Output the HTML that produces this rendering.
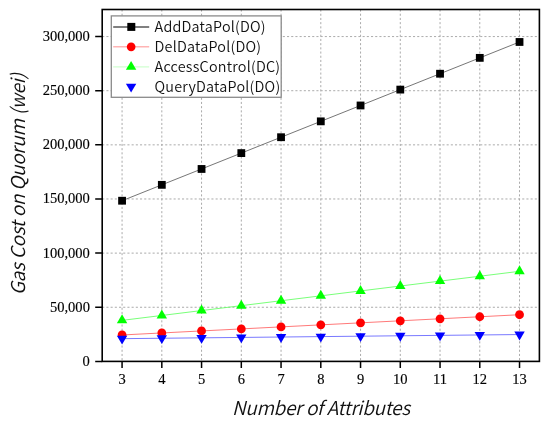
<!DOCTYPE html>
<html><head><meta charset="utf-8"><style>
html,body{margin:0;padding:0;background:#fff;width:550px;height:425px;overflow:hidden}
svg{display:block}
</style></head><body>
<svg width="550" height="425" viewBox="0 0 550 425">
<rect x="0" y="0" width="550" height="425" fill="#fff"/>
<path d="M122.07 9.50V361.40 M161.82 9.50V361.40 M201.56 9.50V361.40 M241.31 9.50V361.40 M281.05 9.50V361.40 M320.80 9.50V361.40 M360.55 9.50V361.40 M400.29 9.50V361.40 M440.04 9.50V361.40 M479.78 9.50V361.40 M519.53 9.50V361.40 M102.20 307.26H539.40 M102.20 253.12H539.40 M102.20 198.98H539.40 M102.20 144.85H539.40 M102.20 90.71H539.40 M102.20 36.57H539.40" stroke="#ababab" stroke-width="1" stroke-dasharray="2.1 2.1" fill="none"/>
<path d="M122.07 361.40V367.90 M161.82 361.40V367.90 M201.56 361.40V367.90 M241.31 361.40V367.90 M281.05 361.40V367.90 M320.80 361.40V367.90 M360.55 361.40V367.90 M400.29 361.40V367.90 M440.04 361.40V367.90 M479.78 361.40V367.90 M519.53 361.40V367.90 M102.20 361.40H95.20 M102.20 307.26H95.20 M102.20 253.12H95.20 M102.20 198.98H95.20 M102.20 144.85H95.20 M102.20 90.71H95.20 M102.20 36.57H95.20" stroke="#000" stroke-width="1.5" fill="none"/>
<path d="M122.07 200.72 L161.82 184.84 L201.56 168.97 L241.31 153.10 L281.05 137.22 L320.80 121.35 L360.55 105.48 L400.29 89.60 L440.04 73.73 L479.78 57.86 L519.53 41.98" stroke="#666666" stroke-width="0.9" fill="none"/>
<path d="M122.07 334.98 L161.82 332.96 L201.56 330.93 L241.31 328.91 L281.05 326.88 L320.80 324.86 L360.55 322.83 L400.29 320.81 L440.04 318.78 L479.78 316.76 L519.53 314.73" stroke="#ff6a6a" stroke-width="0.9" fill="none"/>
<path d="M122.07 320.36 L161.82 315.46 L201.56 310.55 L241.31 305.65 L281.05 300.74 L320.80 295.84 L360.55 290.93 L400.29 286.03 L440.04 281.12 L479.78 276.22 L519.53 271.31" stroke="#6aff6a" stroke-width="0.9" fill="none"/>
<path d="M122.07 338.66 L161.82 338.25 L201.56 337.84 L241.31 337.43 L281.05 337.02 L320.80 336.60 L360.55 336.19 L400.29 335.78 L440.04 335.37 L479.78 334.96 L519.53 334.55" stroke="#6a6aff" stroke-width="0.9" fill="none"/>
<rect x="118.17" y="196.82" width="7.8" height="7.8" fill="#000"/>
<rect x="157.92" y="180.94" width="7.8" height="7.8" fill="#000"/>
<rect x="197.66" y="165.07" width="7.8" height="7.8" fill="#000"/>
<rect x="237.41" y="149.20" width="7.8" height="7.8" fill="#000"/>
<rect x="277.15" y="133.32" width="7.8" height="7.8" fill="#000"/>
<rect x="316.90" y="117.45" width="7.8" height="7.8" fill="#000"/>
<rect x="356.65" y="101.58" width="7.8" height="7.8" fill="#000"/>
<rect x="396.39" y="85.70" width="7.8" height="7.8" fill="#000"/>
<rect x="436.14" y="69.83" width="7.8" height="7.8" fill="#000"/>
<rect x="475.88" y="53.96" width="7.8" height="7.8" fill="#000"/>
<rect x="515.63" y="38.08" width="7.8" height="7.8" fill="#000"/>
<path d="M122.07 314.36L127.27 323.36L116.87 323.36Z" fill="#00ff00"/>
<path d="M161.82 309.46L167.02 318.46L156.62 318.46Z" fill="#00ff00"/>
<path d="M201.56 304.55L206.76 313.55L196.36 313.55Z" fill="#00ff00"/>
<path d="M241.31 299.65L246.51 308.65L236.11 308.65Z" fill="#00ff00"/>
<path d="M281.05 294.74L286.25 303.74L275.85 303.74Z" fill="#00ff00"/>
<path d="M320.80 289.84L326.00 298.84L315.60 298.84Z" fill="#00ff00"/>
<path d="M360.55 284.93L365.75 293.93L355.35 293.93Z" fill="#00ff00"/>
<path d="M400.29 280.03L405.49 289.03L395.09 289.03Z" fill="#00ff00"/>
<path d="M440.04 275.12L445.24 284.12L434.84 284.12Z" fill="#00ff00"/>
<path d="M479.78 270.22L484.98 279.22L474.58 279.22Z" fill="#00ff00"/>
<path d="M519.53 265.31L524.73 274.31L514.33 274.31Z" fill="#00ff00"/>
<circle cx="122.07" cy="334.98" r="4.4" fill="#ff0000"/>
<circle cx="161.82" cy="332.96" r="4.4" fill="#ff0000"/>
<circle cx="201.56" cy="330.93" r="4.4" fill="#ff0000"/>
<circle cx="241.31" cy="328.91" r="4.4" fill="#ff0000"/>
<circle cx="281.05" cy="326.88" r="4.4" fill="#ff0000"/>
<circle cx="320.80" cy="324.86" r="4.4" fill="#ff0000"/>
<circle cx="360.55" cy="322.83" r="4.4" fill="#ff0000"/>
<circle cx="400.29" cy="320.81" r="4.4" fill="#ff0000"/>
<circle cx="440.04" cy="318.78" r="4.4" fill="#ff0000"/>
<circle cx="479.78" cy="316.76" r="4.4" fill="#ff0000"/>
<circle cx="519.53" cy="314.73" r="4.4" fill="#ff0000"/>
<path d="M116.87 335.73L127.27 335.73L122.07 344.53Z" fill="#0000ff"/>
<path d="M156.62 335.32L167.02 335.32L161.82 344.12Z" fill="#0000ff"/>
<path d="M196.36 334.91L206.76 334.91L201.56 343.71Z" fill="#0000ff"/>
<path d="M236.11 334.49L246.51 334.49L241.31 343.29Z" fill="#0000ff"/>
<path d="M275.85 334.08L286.25 334.08L281.05 342.88Z" fill="#0000ff"/>
<path d="M315.60 333.67L326.00 333.67L320.80 342.47Z" fill="#0000ff"/>
<path d="M355.35 333.26L365.75 333.26L360.55 342.06Z" fill="#0000ff"/>
<path d="M395.09 332.85L405.49 332.85L400.29 341.65Z" fill="#0000ff"/>
<path d="M434.84 332.44L445.24 332.44L440.04 341.24Z" fill="#0000ff"/>
<path d="M474.58 332.03L484.98 332.03L479.78 340.83Z" fill="#0000ff"/>
<path d="M514.33 331.61L524.73 331.61L519.53 340.41Z" fill="#0000ff"/>
<rect x="102.20" y="9.50" width="437.20" height="351.90" fill="none" stroke="#000" stroke-width="1.6"/>
<text transform="translate(122.07,384.2) scale(0.97,1)" text-anchor="middle" style="font-family:'Liberation Serif',serif;font-size:15px;fill:#000;stroke:#000;stroke-width:0.15px">3</text>
<text transform="translate(161.82,384.2) scale(0.97,1)" text-anchor="middle" style="font-family:'Liberation Serif',serif;font-size:15px;fill:#000;stroke:#000;stroke-width:0.15px">4</text>
<text transform="translate(201.56,384.2) scale(0.97,1)" text-anchor="middle" style="font-family:'Liberation Serif',serif;font-size:15px;fill:#000;stroke:#000;stroke-width:0.15px">5</text>
<text transform="translate(241.31,384.2) scale(0.97,1)" text-anchor="middle" style="font-family:'Liberation Serif',serif;font-size:15px;fill:#000;stroke:#000;stroke-width:0.15px">6</text>
<text transform="translate(281.05,384.2) scale(0.97,1)" text-anchor="middle" style="font-family:'Liberation Serif',serif;font-size:15px;fill:#000;stroke:#000;stroke-width:0.15px">7</text>
<text transform="translate(320.80,384.2) scale(0.97,1)" text-anchor="middle" style="font-family:'Liberation Serif',serif;font-size:15px;fill:#000;stroke:#000;stroke-width:0.15px">8</text>
<text transform="translate(360.55,384.2) scale(0.97,1)" text-anchor="middle" style="font-family:'Liberation Serif',serif;font-size:15px;fill:#000;stroke:#000;stroke-width:0.15px">9</text>
<text transform="translate(400.29,384.2) scale(0.97,1)" text-anchor="middle" style="font-family:'Liberation Serif',serif;font-size:15px;fill:#000;stroke:#000;stroke-width:0.15px">10</text>
<text transform="translate(440.04,384.2) scale(0.97,1)" text-anchor="middle" style="font-family:'Liberation Serif',serif;font-size:15px;fill:#000;stroke:#000;stroke-width:0.15px">11</text>
<text transform="translate(479.78,384.2) scale(0.97,1)" text-anchor="middle" style="font-family:'Liberation Serif',serif;font-size:15px;fill:#000;stroke:#000;stroke-width:0.15px">12</text>
<text transform="translate(519.53,384.2) scale(0.97,1)" text-anchor="middle" style="font-family:'Liberation Serif',serif;font-size:15px;fill:#000;stroke:#000;stroke-width:0.15px">13</text>
<text transform="translate(89.9,365.90) scale(0.97,1)" text-anchor="end" style="font-family:'Liberation Serif',serif;font-size:15px;fill:#000;stroke:#000;stroke-width:0.15px">0</text>
<text transform="translate(89.9,311.76) scale(0.97,1)" text-anchor="end" style="font-family:'Liberation Serif',serif;font-size:15px;fill:#000;stroke:#000;stroke-width:0.15px">50,000</text>
<text transform="translate(89.9,257.62) scale(0.97,1)" text-anchor="end" style="font-family:'Liberation Serif',serif;font-size:15px;fill:#000;stroke:#000;stroke-width:0.15px">100,000</text>
<text transform="translate(89.9,203.48) scale(0.97,1)" text-anchor="end" style="font-family:'Liberation Serif',serif;font-size:15px;fill:#000;stroke:#000;stroke-width:0.15px">150,000</text>
<text transform="translate(89.9,149.35) scale(0.97,1)" text-anchor="end" style="font-family:'Liberation Serif',serif;font-size:15px;fill:#000;stroke:#000;stroke-width:0.15px">200,000</text>
<text transform="translate(89.9,95.21) scale(0.97,1)" text-anchor="end" style="font-family:'Liberation Serif',serif;font-size:15px;fill:#000;stroke:#000;stroke-width:0.15px">250,000</text>
<text transform="translate(89.9,41.07) scale(0.97,1)" text-anchor="end" style="font-family:'Liberation Serif',serif;font-size:15px;fill:#000;stroke:#000;stroke-width:0.15px">300,000</text>
<rect x="111.3" y="15.9" width="169.90" height="81.40" fill="#fff" stroke="#8a8a8a" stroke-width="1.3"/>
<path d="M113.2 26.9H149.2" stroke="#808080" stroke-width="2"/>
<rect x="127.30" y="22.90" width="8.0" height="8.0" fill="#000"/>
<text x="154.5" y="32.40" style="font-family:'Noto Sans CJK KR',sans-serif;font-size:14.4px;font-weight:350;letter-spacing:0.22px;fill:#111">AddDataPol(DO)</text>
<path d="M113.2 46.85H149.2" stroke="#ffb4b4" stroke-width="1.5"/>
<circle cx="131.15" cy="46.85" r="4.35" fill="#ff0000"/>
<text x="154.5" y="52.40" style="font-family:'Noto Sans CJK KR',sans-serif;font-size:14.4px;font-weight:350;letter-spacing:0.22px;fill:#111">DelDataPol(DO)</text>
<path d="M113.2 66.9H149.2" stroke="#d0ffd0" stroke-width="1.2"/>
<path d="M131.1 61.1L136.3 69.8L125.9 69.8Z" fill="#00ff00"/>
<text x="154.5" y="72.40" style="font-family:'Noto Sans CJK KR',sans-serif;font-size:14.4px;font-weight:350;letter-spacing:0.22px;fill:#111">AccessControl(DC)</text>
<path d="M125.9 83.8L136.3 83.8L131.1 92.6Z" fill="#0000ff"/>
<text x="154.5" y="92.40" style="font-family:'Noto Sans CJK KR',sans-serif;font-size:14.4px;font-weight:350;letter-spacing:0.22px;fill:#111">QueryDataPol(DO)</text>
<text x="232" y="415" textLength="178" lengthAdjust="spacing" style="font-family:'Noto Sans CJK KR',sans-serif;font-size:19px;font-style:italic;font-weight:350;fill:#111">Number of Attributes</text>
<text transform="translate(24.5,295) rotate(-90)" x="0" y="0" textLength="222" lengthAdjust="spacing" style="font-family:'Noto Sans CJK KR',sans-serif;font-size:19px;font-style:italic;font-weight:350;fill:#111">Gas Cost on Quorum (wei)</text>
</svg>
</body></html>
